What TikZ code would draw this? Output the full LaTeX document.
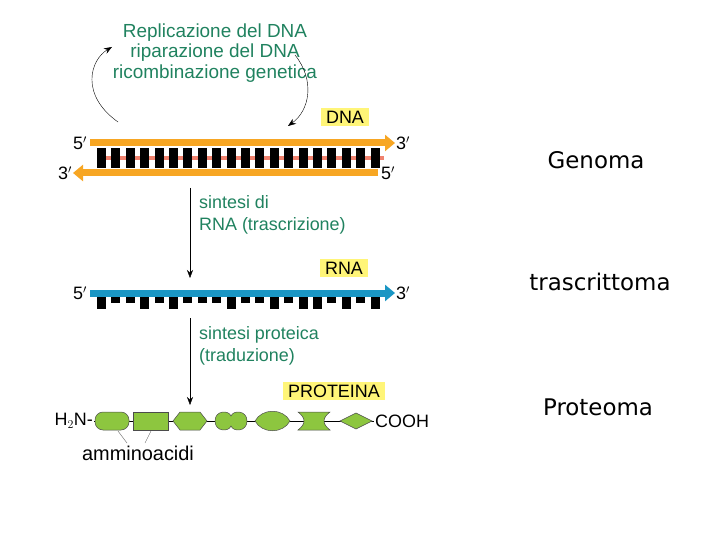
\documentclass[tikz,border=0pt]{standalone}
\usepackage{fontspec}
\setmainfont{Liberation Sans}
\newfontfamily\rightfont{DejaVu Sans}
\usetikzlibrary{arrows.meta,positioning}
\definecolor{dnaorange}{RGB}{247,166,35}
\definecolor{rnablue}{RGB}{26,150,196}
\definecolor{labgreen}{RGB}{32,130,95}
\definecolor{aagreen}{RGB}{141,198,63}
\definecolor{boxyellow}{RGB}{255,245,120}
\definecolor{pairpink}{RGB}{240,130,110}

\begin{document}
\begin{tikzpicture}[x=1bp,y=-1bp,
    every node/.style={inner sep=1pt},
    phase/.style={font=\fontsize{18}{22}\selectfont,text=labgreen,align=left},
    lab/.style={fill=boxyellow,font=\fontsize{18}{20}\selectfont,inner xsep=5pt,inner ysep=3pt},
    prime/.style={font=\fontsize{18}{20}\selectfont},
    strand/.style={line width=7bp,-{Triangle[length=10bp,width=16bp]}},
    aa/.style={fill=aagreen,draw=black!70,line width=0.5bp},
    omic/.style={font=\rightfont\fontsize{23}{26}\selectfont}]
  \useasboundingbox (0,0) rectangle (720,540);
  % replication loop
  \node[phase,align=center,font=\fontsize{19}{20.5}\selectfont] (repl) at (215,53)
    {Replicazione del DNA\\riparazione del DNA\\ricombinazione genetica};
  \coordinate (loopL) at (118,122);
  \coordinate (loopR) at (295,55);
  \draw[-{Stealth[length=8bp]}] (loopL) .. controls (80,95) and (90,60) .. (112,47);
  \draw[-{Stealth[length=8bp]}] (loopR) .. controls (315,80) and (310,110) .. (288,126);
  \node[lab] (dna) at (345,117) {DNA};
  % DNA double strand
  \fill[pairpink] (97,156) rectangle (384,160);
  \foreach \i in {0,...,19} {
    \fill (97+\i*14.4,148) rectangle +(9,20);
  }
  \coordinate (t5) at (90,143);
  \coordinate (t3) at (395,143);
  \draw[strand,dnaorange] (t5) -- (t3);
  \node[prime,left=2bp of t5] (t5l) {5$'$};
  \node[prime,right=0bp of t3] (t3l) {3$'$};
  \coordinate (b5) at (378,173);
  \coordinate (b3) at (73,173);
  \draw[strand,dnaorange] (b5) -- (b3);
  \node[prime,left=0bp of b3] (b3l) {3$'$};
  \node[prime,right=2bp of b5] (b5l) {5$'$};
  % transcription
  \coordinate (trA) at (190,188);
  \coordinate (trB) at (190,278);
  \draw[-{Stealth[length=8bp]}] (trA) -- (trB);
  \node[phase,anchor=north west] (tr) at (198,194) {sintesi di\\RNA (trascrizione)};
  \node[lab] (rna) at (344,268) {RNA};
  % RNA strand
  \foreach \i/\h in {0/13,1/7,2/7,3/13,4/7,5/13,6/7,7/7,8/7,9/13,10/7,11/7,12/13,13/7,14/13,15/13,16/7,17/13,18/7,19/13} {
    \fill (97+\i*14.4,296) rectangle +(9,\h);
  }
  \coordinate (r5) at (90,293);
  \coordinate (r3) at (395,293);
  \draw[strand,rnablue] (r5) -- (r3);
  \node[prime,left=2bp of r5] (r5l) {5$'$};
  \node[prime,right=0bp of r3] (r3l) {3$'$};
  % translation
  \coordinate (tlA) at (190,318);
  \coordinate (tlB) at (190,405);
  \draw[-{Stealth[length=8bp]}] (tlA) -- (tlB);
  \node[phase,anchor=north west] (tl) at (198,325) {sintesi proteica\\(traduzione)};
  \node[lab] (prot) at (334,391) {PROTEINA};
  % protein chain
  \node[prime,anchor=east] (nterm) at (94,421) {H$_2$N-};
  \node[prime,anchor=west] (cterm) at (374,421) {COOH};
  \draw[line width=1bp] (nterm.east) -- (cterm.west);
  \draw[aa,rounded corners=8bp] (95,412) rectangle (129,430);
  \draw[aa] (133,412) rectangle (168,430);
  \draw[aa] (173,421) -- (180,412) -- (200,412) -- (207,421) -- (200,430) -- (180,430) -- cycle;
  \draw[aa] (215,421) .. controls (215,410) and (229,410) .. (231,416) .. controls (233,410) and (247,410) .. (247,421)
    .. controls (247,432) and (233,432) .. (231,426) .. controls (229,432) and (215,432) .. (215,421) -- cycle;
  \draw[aa] (255,421) .. controls (262,408) and (283,408) .. (290,421) .. controls (283,434) and (262,434) .. (255,421) -- cycle;
  \draw[aa] (298,412) -- (330,412) .. controls (322,418) and (322,424) .. (330,430) -- (298,430) .. controls (306,424) and (306,418) .. (298,412) -- cycle;
  \draw[aa] (340,421) -- (356,413) -- (372,421) -- (356,429) -- cycle;
  \node[prime,font=\fontsize{20}{22}\selectfont] (amino) at (138,453) {amminoacidi};
  \draw[black!60,line width=0.4bp] (118,431) -- (127,443);
  \draw[black!60,line width=0.4bp] (151,431) -- (145,443);
  % right labels
  \node[omic] (genoma) at (596,160) {Genoma};
  \node[omic] (trascr) at (600,282) {trascrittoma};
  \node[omic] (proteo) at (598,407) {Proteoma};
\end{tikzpicture}
\end{document}
